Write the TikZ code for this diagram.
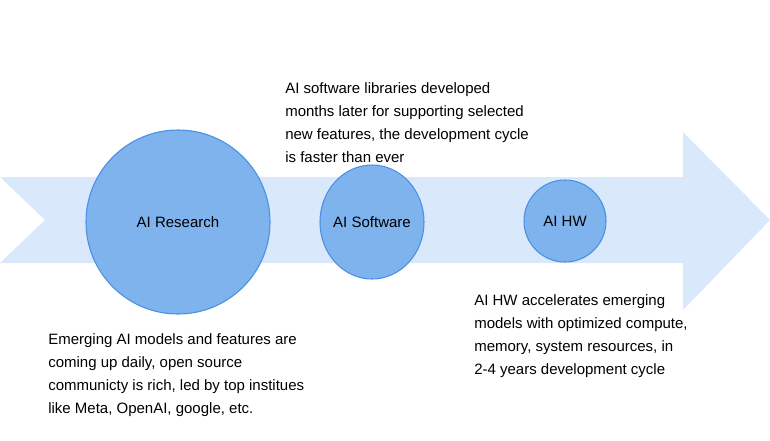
\documentclass[tikz,border=0pt]{standalone}
\usepackage{fontspec}
\setmainfont{Liberation Sans}
\definecolor{arrowc}{RGB}{218,232,252}
\definecolor{circfill}{RGB}{126,179,237}
\definecolor{circdraw}{RGB}{74,144,226}
\begin{document}
\begin{tikzpicture}[x=0.75pt,y=-0.75pt,
  circ/.style={draw=circdraw, fill=circfill, line width=0.8pt},
  lbl/.style={font=\fontsize{11.25}{17.25}\selectfont, align=left, anchor=north west, inner sep=0pt}]
\useasboundingbox (0,0) rectangle (770,440);
\fill[arrowc] (0,177) -- (683,177) -- (683,132) -- (770,220) -- (683,310) -- (683,263) -- (0,263) -- (45,220) -- cycle;
\draw[circ] (178,222) circle[radius=92];
\node at (178,222) (r) {\fontsize{11.25}{13}\selectfont AI Research};
\draw[circ] (372,222) ellipse[x radius=52,y radius=57];
\node at (372,222) (s) {\fontsize{11.25}{13}\selectfont AI Software};
\draw[circ] (565,221) circle[radius=41];
\node at (565,221) (h) {\fontsize{11.25}{13}\selectfont AI HW};
\node[lbl] (t1) at (285,82) {AI software libraries developed\\months later for supporting selected\\new features, the development cycle\\is faster than ever};
\node[lbl] (t2) at (48,333) {Emerging AI models and features are\\coming up daily, open source\\communicty is rich, led by top institues\\like Meta, OpenAI, google, etc.};
\node[lbl] (t3) at (474,294) {AI HW accelerates emerging\\models with optimized compute,\\memory, system resources, in\\2-4 years development cycle};
\end{tikzpicture}
\end{document}
